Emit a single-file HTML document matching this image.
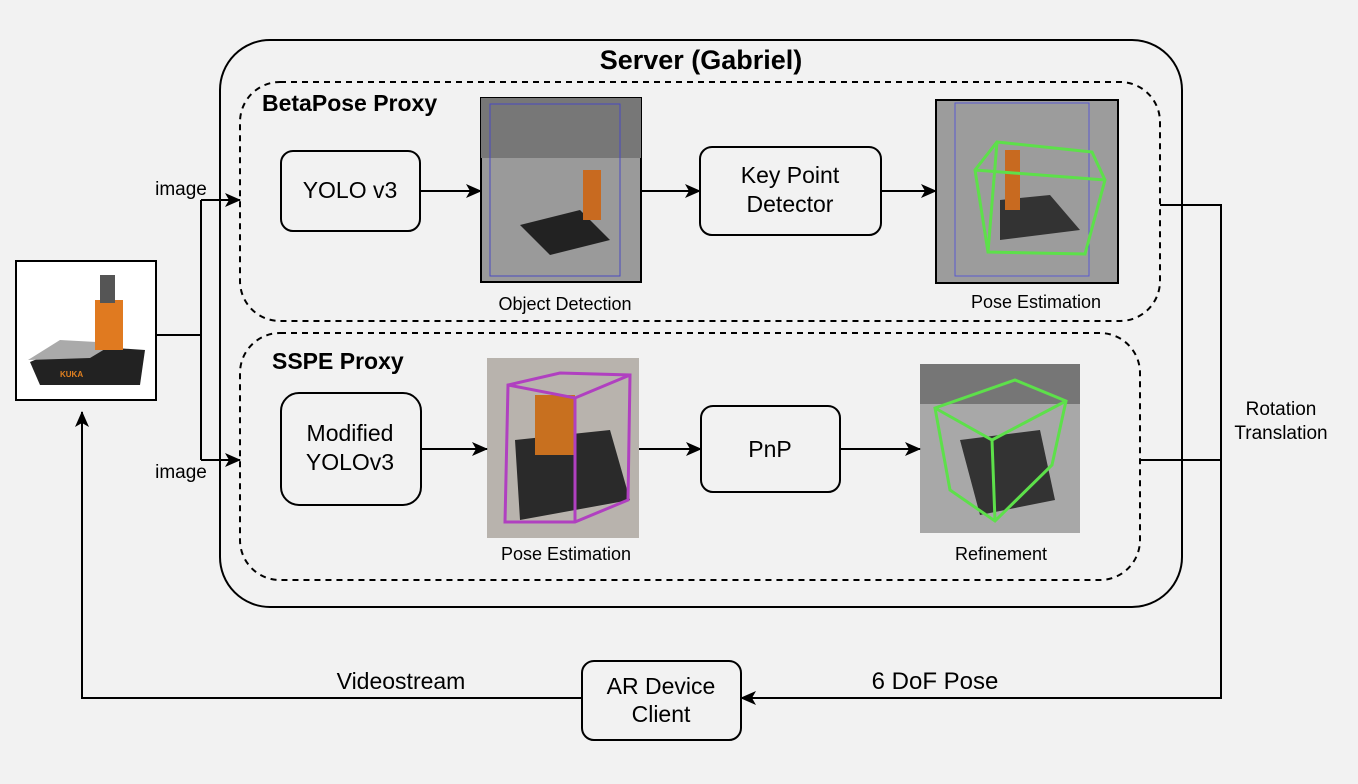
<!DOCTYPE html>
<html><head><meta charset="utf-8"><style>
html,body{margin:0;padding:0;background:#f2f2f2;}
svg{display:block;font-family:"Liberation Sans",Arial,sans-serif;}
</style></head><body>
<svg width="1358" height="784" viewBox="0 0 1358 784" xmlns="http://www.w3.org/2000/svg">
<defs>
<marker id="ar" markerWidth="16" markerHeight="14" refX="15" refY="7" orient="auto" markerUnits="userSpaceOnUse">
<path d="M0,0 L16,7 L0,14 L4,7 Z" fill="#000"/></marker>
</defs>
<rect width="1358" height="784" fill="#f2f2f2"/>
<!-- server -->
<rect x="220" y="40" width="962" height="567" rx="50" fill="none" stroke="#000" stroke-width="2"/>
<text x="701" y="69" font-size="27" font-weight="bold" text-anchor="middle">Server (Gabriel)</text>
<rect x="240" y="82" width="920" height="239" rx="40" fill="none" stroke="#000" stroke-width="2" stroke-dasharray="6,5"/>
<text x="262" y="111" font-size="23" font-weight="bold">BetaPose Proxy</text>
<rect x="240" y="333" width="900" height="247" rx="40" fill="none" stroke="#000" stroke-width="2" stroke-dasharray="6,5"/>
<text x="272" y="369" font-size="23" font-weight="bold">SSPE Proxy</text>

<!-- boxes -->
<rect x="281" y="151" width="139" height="80" rx="12" fill="none" stroke="#000" stroke-width="2"/>
<text x="350" y="198" font-size="23" text-anchor="middle">YOLO v3</text>
<rect x="700" y="147" width="181" height="88" rx="12" fill="none" stroke="#000" stroke-width="2"/>
<text x="790" y="183" font-size="23" text-anchor="middle">Key Point</text>
<text x="790" y="212" font-size="23" text-anchor="middle">Detector</text>
<rect x="281" y="393" width="140" height="112" rx="18" fill="none" stroke="#000" stroke-width="2"/>
<text x="350" y="441" font-size="23" text-anchor="middle">Modified</text>
<text x="350" y="470" font-size="23" text-anchor="middle">YOLOv3</text>
<rect x="701" y="406" width="139" height="86" rx="12" fill="none" stroke="#000" stroke-width="2"/>
<text x="770" y="457" font-size="23" text-anchor="middle">PnP</text>
<rect x="582" y="661" width="159" height="79" rx="12" fill="none" stroke="#000" stroke-width="2"/>
<text x="661" y="694" font-size="23" text-anchor="middle">AR Device</text>
<text x="661" y="722" font-size="23" text-anchor="middle">Client</text>

<!-- images -->
<rect x="481" y="98" width="160" height="184" fill="#9a9a9a" stroke="#000" stroke-width="2"/>
<rect x="481" y="98" width="160" height="60" fill="#777"/>
<rect x="490" y="104" width="130" height="172" fill="none" stroke="#4a4ac0" stroke-width="1"/>
<path d="M520,225 L580,210 L610,240 L550,255 Z" fill="#222"/>
<rect x="583" y="170" width="18" height="50" fill="#c86a20"/>
<text x="565" y="310" font-size="18" text-anchor="middle">Object Detection</text>

<rect x="936" y="100" width="182" height="183" fill="#9c9c9c" stroke="#000" stroke-width="2"/>
<rect x="955" y="103" width="134" height="173" fill="none" stroke="#5a5ad0" stroke-width="1"/>
<path d="M1000,200 L1050,195 L1080,230 L1000,240 Z" fill="#333"/>
<rect x="1005" y="150" width="15" height="60" fill="#c86a20"/>
<path d="M975,170 L997,142 L1092,152 L1105,180 L1085,254 L988,252 Z M997,142 L988,252 M975,170 L1105,180" fill="none" stroke="#5de04a" stroke-width="3"/>
<text x="1036" y="308" font-size="18" text-anchor="middle">Pose Estimation</text>

<rect x="487" y="358" width="152" height="180" fill="#b8b3ad"/>
<path d="M515,440 L610,430 L630,500 L520,520 Z" fill="#2a2a2a"/>
<rect x="535" y="395" width="40" height="60" fill="#c8701f"/>
<path d="M508,385 L560,373 L630,375 L628,500 L575,522 L505,522 Z M508,385 L575,398 L630,375 M575,398 L575,522" fill="none" stroke="#b040c0" stroke-width="3"/>
<text x="566" y="560" font-size="18" text-anchor="middle">Pose Estimation</text>

<rect x="920" y="364" width="160" height="169" fill="#a8a8a8"/>
<rect x="920" y="364" width="160" height="40" fill="#555" opacity="0.6"/>
<path d="M960,440 L1040,430 L1055,500 L980,515 Z" fill="#333"/>
<path d="M935,408 L1015,380 L1066,401 L1052,465 L995,521 L950,490 Z M935,408 L992,440 L1066,401 M992,440 L995,521" fill="none" stroke="#5de04a" stroke-width="3"/>
<text x="1001" y="560" font-size="18" text-anchor="middle">Refinement</text>

<!-- robot -->
<rect x="16" y="261" width="140" height="139" fill="#fff" stroke="#000" stroke-width="2"/>
<path d="M30,362 L70,345 L145,350 L140,385 L40,385 Z" fill="#222"/>
<path d="M28,360 L60,340 L115,343 L90,358 Z" fill="#aaa"/>
<rect x="95" y="300" width="28" height="50" fill="#e07a20"/>
<rect x="100" y="275" width="15" height="28" fill="#555"/>
<text x="60" y="377" font-size="8" fill="#e08020" font-weight="bold">KUKA</text>

<!-- connectors -->
<g stroke="#000" stroke-width="2" fill="none">
<path d="M156,335 H201"/>
<path d="M201,200 V460"/>
<path d="M201,200 H240" marker-end="url(#ar)"/>
<path d="M201,460 H240" marker-end="url(#ar)"/>
<path d="M420,191 H481" marker-end="url(#ar)"/>
<path d="M641,191 H700" marker-end="url(#ar)"/>
<path d="M881,191 H936" marker-end="url(#ar)"/>
<path d="M421,449 H487" marker-end="url(#ar)"/>
<path d="M639,449 H701" marker-end="url(#ar)"/>
<path d="M840,449 H920" marker-end="url(#ar)"/>
<path d="M1160,205 H1221 V698 H741" marker-end="url(#ar)"/>
<path d="M1140,460 H1221"/>
<path d="M582,698 H82 V412" marker-end="url(#ar)"/>
</g>
<text x="181" y="195" font-size="19" text-anchor="middle">image</text>
<text x="181" y="478" font-size="19" text-anchor="middle">image</text>
<text x="1281" y="415" font-size="19" text-anchor="middle">Rotation</text>
<text x="1281" y="439" font-size="19" text-anchor="middle">Translation</text>
<text x="935" y="689" font-size="24" text-anchor="middle">6 DoF Pose</text>
<text x="401" y="689" font-size="23" text-anchor="middle">Videostream</text>
</svg>
</body></html>
